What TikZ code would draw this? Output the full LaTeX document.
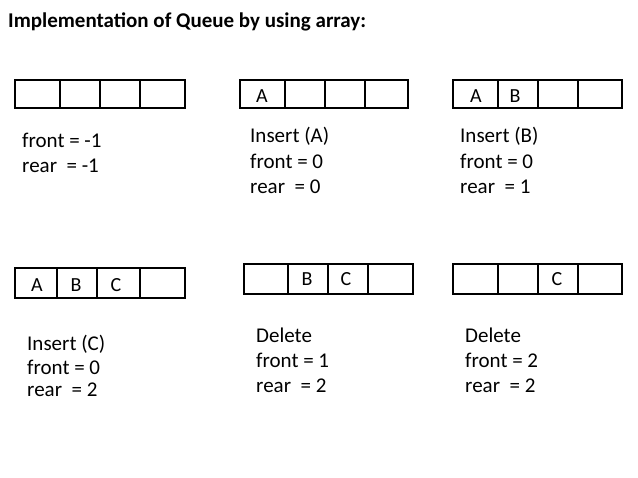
\documentclass[tikz,border=0pt]{standalone}
\usepackage{fontspec}
\setmainfont{Carlito}
\begin{document}
\begin{tikzpicture}[x=1pt,y=-1pt,
  cellbox/.style={draw=black,line width=1.5pt},
  lbl/.style={anchor=west,inner sep=0pt,font=\fontsize{21}{24}\selectfont},
  cl/.style={inner sep=0pt,font=\fontsize{20}{24}\selectfont}]
\useasboundingbox[fill=white] (0,0) rectangle (638,478);
\node[anchor=west,inner sep=0pt,font=\fontsize{21}{24}\selectfont\bfseries] (title) at (8,22) {Implementation of Queue by using array:};
% row 1
\draw[cellbox] (15,80) rectangle (185,108);
\foreach \x in {60,100,140} \draw[cellbox] (\x,80) -- (\x,108);
\draw[cellbox] (240,80) rectangle (408,108);
\foreach \x in {285,325,365} \draw[cellbox] (\x,80) -- (\x,108);
\node[cl] (a2) at (262,96) {A};
\draw[cellbox] (453,80) rectangle (622,108);
\foreach \x in {498,538,578} \draw[cellbox] (\x,80) -- (\x,108);
\node[cl] (a3) at (476,96) {A};
\node[cl] (b3) at (515,96) {B};
% row 2
\draw[cellbox] (15,268) rectangle (185,298);
\foreach \x in {57,97,140} \draw[cellbox] (\x,268) -- (\x,298);
\node[cl] (a4) at (37,285) {A};
\node[cl] (b4) at (76,285) {B};
\node[cl] (c4) at (116,285) {C};
\draw[cellbox] (244,264) rectangle (413,294);
\foreach \x in {288,328,368} \draw[cellbox] (\x,264) -- (\x,294);
\node[cl] (b5) at (307,279) {B};
\node[cl] (c5) at (346,279) {C};
\draw[cellbox] (453,264) rectangle (622,294);
\foreach \x in {498,538,578} \draw[cellbox] (\x,264) -- (\x,294);
\node[cl] (c6) at (557,279) {C};
% labels
\node[lbl] (t1a) at (22,140) {front = -1};
\node[lbl] (t1b) at (22,166) {rear\ \ = -1};
\node[lbl] (t2a) at (250,136) {Insert (A)};
\node[lbl] (t2b) at (250,161) {front = 0};
\node[lbl] (t2c) at (250,187) {rear\ \ = 0};
\node[lbl] (t3a) at (460,136) {Insert (B)};
\node[lbl] (t3b) at (460,161) {front = 0};
\node[lbl] (t3c) at (460,187) {rear\ \ = 1};
\node[lbl] (t4a) at (27,344) {Insert (C)};
\node[lbl] (t4b) at (27,367) {front = 0};
\node[lbl] (t4c) at (27,390) {rear\ \ = 2};
\node[lbl] (t5a) at (256,335) {Delete};
\node[lbl] (t5b) at (256,360) {front = 1};
\node[lbl] (t5c) at (256,386) {rear\ \ = 2};
\node[lbl] (t6a) at (465,335) {Delete};
\node[lbl] (t6b) at (465,360) {front = 2};
\node[lbl] (t6c) at (465,386) {rear\ \ = 2};
\end{tikzpicture}
\end{document}
